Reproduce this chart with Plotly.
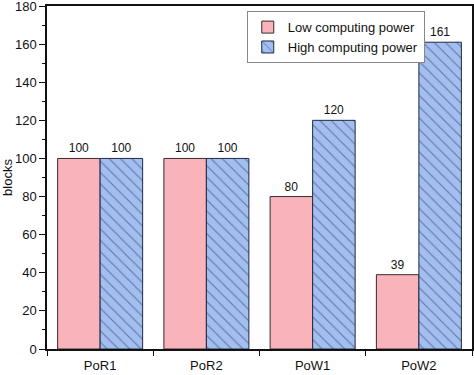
import plotly.graph_objects as go

categories = ["PoR1", "PoR2", "PoW1", "PoW2"]
low_power = [100, 100, 80, 39]
high_power = [100, 100, 120, 161]
y_ticks = [0, 20, 40, 60, 80, 100, 120, 140, 160, 180]

FONT = "Liberation Sans, Arial, sans-serif"

fig = go.Figure()
fig.add_trace(go.Bar(
    x=categories, y=low_power, name="Low computing power",
    marker=dict(color="#F9B3BA", line=dict(color="#3a2a2a", width=1)),
    text=low_power, textposition="outside", cliponaxis=False,
    textfont=dict(family=FONT, size=12, color="#111"),
))
fig.add_trace(go.Bar(
    x=categories, y=high_power, name="High computing power",
    marker=dict(color="#A3BEF0", line=dict(color="#1e2a45", width=1),
                pattern=dict(shape="\\", fgcolor="#1e2a45", bgcolor="#A3BEF0",
                             size=8, solidity=0.13, fillmode="overlay")),
    text=high_power, textposition="outside", cliponaxis=False,
    textfont=dict(family=FONT, size=12, color="#111"),
))

fig.update_layout(
    width=474, height=375,
    margin=dict(l=47, r=2, t=6, b=26, autoexpand=False),
    paper_bgcolor="white", plot_bgcolor="white",
    barmode="group", bargap=0.2, bargroupgap=0,
    font=dict(family=FONT, size=13, color="#111"),
    showlegend=True,
    legend=dict(x=0.47, y=0.985, xanchor="left", yanchor="top",
                bgcolor="white", bordercolor="#888", borderwidth=1,
                font=dict(family=FONT, size=13, color="#111"),
                tracegroupgap=0, itemwidth=30),
    xaxis=dict(range=[-0.5, 3.5], showline=True, linecolor="#111", linewidth=1.5,
               mirror=True, ticks="outside", tickson="boundaries", ticklen=5,
               ticklabelstandoff=4,
               tickcolor="#111", tickfont=dict(family=FONT, size=13), automargin=False),
    yaxis=dict(range=[0, 180], tickvals=y_ticks, showline=True, linecolor="#111",
               linewidth=1.5, mirror=True, ticks="outside", ticklen=6, tickwidth=1.2,
               tickcolor="#111", showgrid=False, zeroline=False, automargin=False,
               tickfont=dict(family=FONT, size=13), ticklabeloverflow="allow",
               minor=dict(dtick=10, ticks="outside", ticklen=3, tickcolor="#111"),
               title=dict(text="blocks", font=dict(family=FONT, size=13), standoff=8)),
)

fig.write_html("out.html", config={"displayModeBar": False},
               post_script="document.body.style.margin='0';")
